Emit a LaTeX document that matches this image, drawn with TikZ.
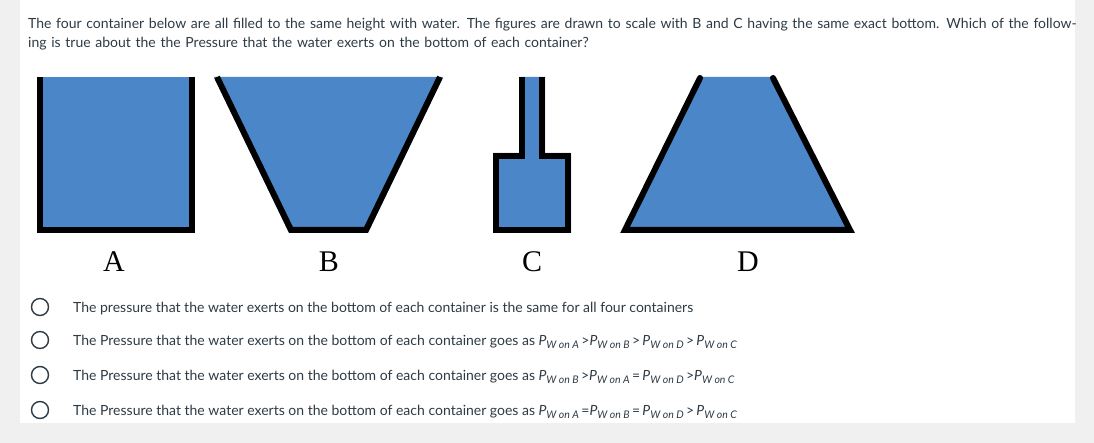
\documentclass[tikz,border=0pt]{standalone}
\usepackage{fontspec}
\setmainfont{Lato}
\newfontfamily\tnr{Liberation Serif}
\definecolor{water}{HTML}{4A86C8}
\definecolor{txt}{HTML}{2D3B45}
\definecolor{bggray}{HTML}{F0F0F0}
\tikzset{
  wall/.style={line width=6pt, line join=miter},
  lbl/.style={font=\tnr\fontsize{30}{30}\selectfont, inner sep=0pt},
  opt/.style={anchor=west, font=\fontsize{14}{16}\selectfont, text=txt, inner sep=0pt},
  radio/.style={circle, draw=txt, line width=1.4pt, minimum size=17pt, inner sep=0pt},
}
\newcommand{\Pw}[1]{\textit{P}\raisebox{-0.35ex}{\fontsize{10.5}{11}\selectfont\textit{W on #1}}}
\begin{document}
\begin{tikzpicture}[x=1pt,y=-1pt]
\fill[bggray] (0,0) rectangle (1094,443);
\fill[white] (20,0) rectangle (1075,423);
\node[anchor=north west, align=left, text width=1050pt, font=\fontsize{14}{19}\selectfont, text=txt, inner sep=0pt] (q) at (28,18)
 {The four container below are all filled to the same height with water. The figures are drawn to scale with B and C having the same exact bottom. Which of the following is true about the the Pressure that the water exerts on the bottom of each container?};
% A
\fill[water] (37,77) rectangle (195,233);
\draw[wall] (40,77) -- (40,230) -- (192,230) -- (192,77);
% B
\fill[water] (214,77) -- (443,77) -- (368,233) -- (289,233) -- cycle;
\draw[wall] (217,77) -- (291,230) -- (366,230) -- (440,77);
% C
\fill[water] (519,77) -- (545,77) -- (545,153) -- (571,153) -- (571,233) -- (493,233) -- (493,153) -- (519,153) -- cycle;
\draw[wall] (522,77) -- (522,156) -- (496,156) -- (496,230) -- (568,230) -- (568,156) -- (542,156) -- (542,77);
% D
\fill[water] (700,77) -- (773,77) -- (852,233) -- (623,233) -- cycle;
\draw[wall, line cap=round] (700,78) -- (625,230) -- (850,230) -- (773,78);
\node[lbl] (la) at (114,262) {A};
\node[lbl] (lb) at (329,262) {B};
\node[lbl] (lc) at (532,262) {C};
\node[lbl] (ld) at (748,262) {D};
\foreach \y/\n in {307/1,340/2,375/3,410/4} \node[radio] (r\n) at (40,\y) {};
\node[opt] (o1) at (73,309) {The pressure that the water exerts on the bottom of each container is the same for all four containers};
\node[opt] (o2) at (73,342) {The Pressure that the water exerts on the bottom of each container goes as \Pw{A}\,>\Pw{B}\,>\,\Pw{D}\,>\,\Pw{C}};
\node[opt] (o3) at (73,377) {The Pressure that the water exerts on the bottom of each container goes as \Pw{B}\,>\Pw{A}\,=\,\Pw{D}\,>\Pw{C}};
\node[opt] (o4) at (73,412) {The Pressure that the water exerts on the bottom of each container goes as \Pw{A}\,=\Pw{B}\,=\,\Pw{D}\,>\,\Pw{C}};
\end{tikzpicture}
\end{document}
